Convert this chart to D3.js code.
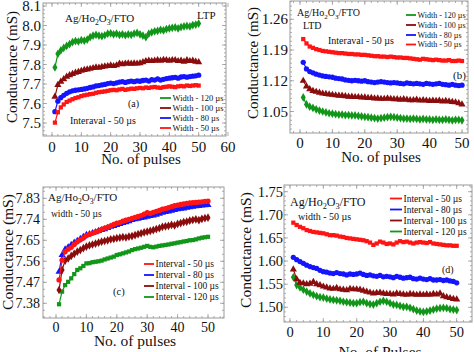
<!DOCTYPE html>
<html>
<head>
<meta charset="utf-8">
<script src="https://cdn.jsdelivr.net/npm/d3@7"></script>
<style>
  body { margin: 0; background: #fff; }
  svg { display: block; font-family: "Liberation Serif", "Times New Roman", serif; }
</style>
</head>
<body>
<svg id="chart" width="474" height="352"></svg>
<script>
// Pulse numbers shared by every series
const PULSES = d3.range(1, 51);

// (a) LTP, interval 50 µs, varying pulse width
const A_W120 = [7.785, 7.855, 7.872, 7.885, 7.895, 7.905, 7.915, 7.920, 7.918, 7.925,
  7.922, 7.928, 7.940, 7.948, 7.952, 7.948, 7.945, 7.950, 7.958, 7.960,
  7.955, 7.958, 7.952, 7.955, 7.950, 7.955, 7.952, 7.958, 7.962, 7.955,
  7.948, 7.940, 7.958, 7.965, 7.970, 7.972, 7.978, 7.975, 7.982, 7.985,
  7.988, 7.990, 7.985, 7.992, 7.995, 7.998, 7.995, 8.002, 8.005, 8.010];
const A_W100 = [7.635, 7.695, 7.712, 7.725, 7.738, 7.745, 7.752, 7.758, 7.762, 7.768,
  7.772, 7.775, 7.778, 7.782, 7.785, 7.784, 7.788, 7.790, 7.792, 7.795,
  7.792, 7.796, 7.805, 7.802, 7.805, 7.806, 7.804, 7.806, 7.805, 7.807,
  7.812, 7.818, 7.820, 7.818, 7.820, 7.822, 7.820, 7.824, 7.822, 7.820,
  7.823, 7.822, 7.818, 7.820, 7.815, 7.822, 7.818, 7.820, 7.815, 7.812];
const A_W80 = [7.558, 7.612, 7.630, 7.642, 7.652, 7.660, 7.665, 7.668, 7.670, 7.672,
  7.675, 7.678, 7.682, 7.685, 7.690, 7.692, 7.695, 7.698, 7.702, 7.705,
  7.702, 7.706, 7.710, 7.712, 7.708, 7.712, 7.715, 7.712, 7.716, 7.714,
  7.718, 7.720, 7.715, 7.722, 7.720, 7.726, 7.720, 7.724, 7.728, 7.730,
  7.732, 7.734, 7.730, 7.736, 7.738, 7.735, 7.738, 7.740, 7.742, 7.745];
const A_W50 = [7.502, 7.555, 7.580, 7.595, 7.608, 7.615, 7.622, 7.628, 7.632, 7.638,
  7.642, 7.645, 7.648, 7.650, 7.655, 7.658, 7.660, 7.662, 7.665, 7.668,
  7.670, 7.668, 7.672, 7.675, 7.670, 7.673, 7.676, 7.675, 7.678, 7.680,
  7.678, 7.682, 7.680, 7.683, 7.685, 7.682, 7.680, 7.684, 7.686, 7.688,
  7.686, 7.684, 7.688, 7.690, 7.688, 7.692, 7.690, 7.692, 7.694, 7.692];

// (b) LTD, interval 50 µs, varying pulse width
const B_W50 = [1.215, 1.205, 1.198, 1.195, 1.192, 1.190, 1.188, 1.187, 1.186, 1.185,
  1.184, 1.183, 1.183, 1.182, 1.181, 1.181, 1.180, 1.180, 1.179, 1.179,
  1.178, 1.177, 1.176, 1.176, 1.175, 1.175, 1.174, 1.175, 1.174, 1.173,
  1.173, 1.172, 1.172, 1.171, 1.170, 1.169, 1.168, 1.170, 1.169, 1.168,
  1.167, 1.168, 1.167, 1.166, 1.166, 1.167, 1.165, 1.165, 1.166, 1.165];
const B_W80 = [1.162, 1.147, 1.141, 1.138, 1.135, 1.133, 1.131, 1.130, 1.129, 1.128,
  1.126, 1.125, 1.124, 1.122, 1.121, 1.120, 1.121, 1.120, 1.119, 1.120,
  1.118, 1.117, 1.116, 1.117, 1.118, 1.117, 1.116, 1.115, 1.116, 1.115,
  1.114, 1.113, 1.115, 1.114, 1.113, 1.114, 1.113, 1.112, 1.114, 1.113,
  1.112, 1.113, 1.114, 1.112, 1.111, 1.110, 1.112, 1.110, 1.109, 1.110];
const B_W100 = [1.120, 1.107, 1.101, 1.097, 1.095, 1.093, 1.091, 1.090, 1.089, 1.088,
  1.087, 1.086, 1.086, 1.085, 1.084, 1.084, 1.083, 1.083, 1.082, 1.082,
  1.081, 1.081, 1.080, 1.080, 1.079, 1.079, 1.080, 1.079, 1.078, 1.078,
  1.077, 1.078, 1.077, 1.076, 1.076, 1.077, 1.075, 1.076, 1.075, 1.074,
  1.075, 1.074, 1.075, 1.073, 1.074, 1.073, 1.072, 1.071, 1.069, 1.066];
const B_W120 = [1.082, 1.066, 1.061, 1.058, 1.055, 1.052, 1.050, 1.048, 1.046, 1.045,
  1.044, 1.043, 1.043, 1.042, 1.042, 1.041, 1.041, 1.040, 1.039, 1.038,
  1.037, 1.036, 1.035, 1.034, 1.035, 1.036, 1.037, 1.038, 1.037, 1.036,
  1.035, 1.034, 1.034, 1.033, 1.034, 1.033, 1.032, 1.033, 1.032, 1.032,
  1.031, 1.032, 1.031, 1.031, 1.032, 1.031, 1.030, 1.031, 1.031, 1.030];

// (c) potentiation, width 50 µs, varying interval
const C_I50 = [7.480, 7.565, 7.601, 7.612, 7.620, 7.632, 7.644, 7.652, 7.660, 7.670,
  7.675, 7.680, 7.686, 7.690, 7.697, 7.702, 7.706, 7.712, 7.718, 7.723,
  7.726, 7.732, 7.736, 7.740, 7.744, 7.748, 7.752, 7.756, 7.762, 7.768,
  7.765, 7.770, 7.774, 7.778, 7.783, 7.786, 7.790, 7.794, 7.798, 7.801,
  7.804, 7.806, 7.808, 7.810, 7.811, 7.812, 7.814, 7.815, 7.817, 7.818];
const C_I80 = [7.515, 7.587, 7.611, 7.620, 7.630, 7.640, 7.648, 7.656, 7.665, 7.673,
  7.677, 7.681, 7.685, 7.690, 7.694, 7.698, 7.703, 7.708, 7.712, 7.716,
  7.720, 7.724, 7.728, 7.732, 7.737, 7.740, 7.743, 7.746, 7.748, 7.751,
  7.754, 7.757, 7.760, 7.764, 7.768, 7.771, 7.774, 7.777, 7.780, 7.783,
  7.785, 7.787, 7.790, 7.792, 7.794, 7.796, 7.797, 7.799, 7.800, 7.801];
const C_I100 = [7.437, 7.523, 7.563, 7.572, 7.583, 7.592, 7.601, 7.608, 7.616, 7.623,
  7.628, 7.632, 7.636, 7.640, 7.644, 7.647, 7.650, 7.654, 7.656, 7.659,
  7.661, 7.664, 7.662, 7.666, 7.668, 7.672, 7.676, 7.680, 7.684, 7.687,
  7.690, 7.694, 7.698, 7.702, 7.708, 7.710, 7.712, 7.716, 7.714, 7.720,
  7.724, 7.728, 7.730, 7.734, 7.737, 7.740, 7.736, 7.742, 7.745, 7.747];
const C_I120 = [7.376, 7.430, 7.458, 7.472, 7.487, 7.505, 7.523, 7.530, 7.540, 7.551,
  7.552, 7.556, 7.558, 7.560, 7.563, 7.568, 7.572, 7.576, 7.580, 7.587,
  7.590, 7.594, 7.598, 7.602, 7.608, 7.612, 7.615, 7.618, 7.622, 7.626,
  7.622, 7.620, 7.623, 7.626, 7.628, 7.630, 7.632, 7.635, 7.637, 7.640,
  7.642, 7.645, 7.647, 7.650, 7.651, 7.654, 7.658, 7.661, 7.663, 7.665];

// (d) depression, width 50 µs, varying interval
const D_I50 = [1.683, 1.678, 1.674, 1.671, 1.667, 1.665, 1.663, 1.662, 1.661, 1.660,
  1.658, 1.656, 1.656, 1.655, 1.653, 1.652, 1.650, 1.649, 1.648, 1.647,
  1.646, 1.645, 1.643, 1.640, 1.635, 1.638, 1.642, 1.640, 1.637, 1.638,
  1.636, 1.640, 1.643, 1.641, 1.642, 1.640, 1.638, 1.640, 1.641, 1.640,
  1.639, 1.641, 1.638, 1.637, 1.636, 1.635, 1.634, 1.634, 1.633, 1.633];
const D_I80 = [1.608, 1.603, 1.599, 1.595, 1.591, 1.588, 1.586, 1.584, 1.580, 1.577,
  1.576, 1.574, 1.573, 1.575, 1.573, 1.572, 1.570, 1.572, 1.571, 1.572,
  1.574, 1.571, 1.569, 1.570, 1.568, 1.567, 1.569, 1.566, 1.567, 1.566,
  1.564, 1.567, 1.565, 1.563, 1.564, 1.565, 1.562, 1.561, 1.563, 1.561,
  1.560, 1.562, 1.559, 1.559, 1.560, 1.558, 1.559, 1.557, 1.556, 1.553];
const D_I100 = [1.582, 1.561, 1.553, 1.552, 1.550, 1.551, 1.555, 1.550, 1.548, 1.545,
  1.543, 1.541, 1.540, 1.542, 1.539, 1.538, 1.537, 1.540, 1.539, 1.539,
  1.538, 1.536, 1.534, 1.532, 1.530, 1.531, 1.532, 1.530, 1.529, 1.529,
  1.528, 1.530, 1.529, 1.528, 1.527, 1.529, 1.528, 1.527, 1.528, 1.527,
  1.528, 1.527, 1.529, 1.528, 1.530, 1.524, 1.522, 1.520, 1.518, 1.517];
const D_I120 = [1.565, 1.548, 1.543, 1.538, 1.534, 1.530, 1.527, 1.524, 1.522, 1.521,
  1.519, 1.517, 1.516, 1.515, 1.514, 1.512, 1.511, 1.510, 1.509, 1.509,
  1.511, 1.512, 1.509, 1.507, 1.506, 1.509, 1.512, 1.514, 1.512, 1.509,
  1.506, 1.505, 1.503, 1.501, 1.501, 1.499, 1.496, 1.493, 1.491, 1.490,
  1.491, 1.493, 1.495, 1.497, 1.498, 1.499, 1.498, 1.496, 1.495, 1.494];

// Tick values
const X_TICKS_A = [0, 10, 20, 30, 40, 50, 60];
const X_TICKS = [0, 10, 20, 30, 40, 50];
const Y_TICKS_A = [7.5, 7.6, 7.7, 7.8, 7.9, 8.0, 8.1];
const Y_TICKS_B = [1.05, 1.12, 1.19, 1.26];
const Y_TICKS_C = [7.38, 7.47, 7.56, 7.65, 7.74, 7.83];
const Y_TICKS_D = [1.50, 1.55, 1.60, 1.65, 1.70, 1.75];

const WIDTH_LABELS = ['Width - 120 µs', 'Width - 100 µs', 'Width - 80 µs', 'Width - 50 µs'];
const INTERVAL_LABELS = ['Interval - 50 µs', 'Interval - 80 µs', 'Interval - 100 µs', 'Interval - 120 µs'];

const COLORS = { red: '#ff1414', blue: '#1414ff', wine: '#8a0c0c', green: '#12961a' };
const FRAME = '#9a9a9a';

const svg = d3.select('#chart');

/**
 * Write "Ag/Ho2O3/FTO" with subscripts
 */
function deviceLabel(g, x, y, size) {
    const t = g.append('text').attr('x', x).attr('y', y).attr('font-size', size).attr('fill', '#111');
    const parts = [['Ag/Ho', 0], ['2', 1], ['O', -1], ['3', 1], ['/FTO', -1]];
    parts.forEach(([s, shift]) => {
        const sp = t.append('tspan').text(s);
        if (shift === 1) sp.attr('dy', size * 0.25).attr('font-size', size * 0.7);
        if (shift === -1) sp.attr('dy', -size * 0.25);
    });
}

/**
 * Draw one panel: frame, ticks, series, legend and notes
 */
function drawPanel(p) {
    const g = svg.append('g');
    const f = p.frame;
    const x = d3.scaleLinear().domain(p.xDomain).range(p.xRange);
    const y = d3.scaleLinear().domain(p.yDomain).range(p.yRange);

    // Frame
    g.append('rect')
        .attr('x', f.x0).attr('y', f.y0)
        .attr('width', f.x1 - f.x0).attr('height', f.y1 - f.y0)
        .attr('fill', 'none').attr('stroke', FRAME).attr('stroke-width', 1);

    // Minor and major ticks on all four sides
    const ticks = g.append('g').attr('stroke', FRAME).attr('stroke-width', 0.8);
    const xLo = x.invert(f.x0), xHi = x.invert(f.x1);
    const yLo = y.invert(f.y1), yHi = y.invert(f.y0);
    const xMinor = d3.range(Math.ceil(xLo / p.xMinor) * p.xMinor, xHi, p.xMinor);
    const yMinor = d3.range(Math.ceil(yLo / p.yMinor - 1e-6) * p.yMinor, yHi, p.yMinor);

    const vTick = (v, len) => {
        ticks.append('line').attr('x1', x(v)).attr('x2', x(v)).attr('y1', f.y1).attr('y2', f.y1 - len);
        ticks.append('line').attr('x1', x(v)).attr('x2', x(v)).attr('y1', f.y0).attr('y2', f.y0 + len);
    };
    const hTick = (v, len) => {
        ticks.append('line').attr('y1', y(v)).attr('y2', y(v)).attr('x1', f.x0).attr('x2', f.x0 + len);
        ticks.append('line').attr('y1', y(v)).attr('y2', y(v)).attr('x1', f.x1).attr('x2', f.x1 - len);
    };
    xMinor.forEach(v => vTick(v, 2));
    yMinor.forEach(v => hTick(v, 2));
    p.xTicks.forEach(v => vTick(v, 4));
    p.yTicks.forEach(v => hTick(v, 4));

    // Tick labels
    g.append('g').selectAll('text').data(p.xTicks).join('text')
        .attr('x', d => x(d)).attr('y', p.xLabelY)
        .attr('text-anchor', 'middle').attr('dominant-baseline', 'central')
        .attr('font-size', p.tickSize).attr('fill', '#111')
        .text(d3.format('d'));
    g.append('g').selectAll('text').data(p.yTicks).join('text')
        .attr('x', p.yLabelX).attr('y', d => y(d))
        .attr('text-anchor', 'end').attr('dominant-baseline', 'central')
        .attr('font-size', p.tickSize).attr('fill', '#111')
        .text(d3.format(p.yFormat));

    // Axis titles
    g.append('text')
        .attr('x', p.xTitle.x).attr('y', p.xTitle.y)
        .attr('text-anchor', 'middle').attr('font-size', p.titleSize).attr('fill', '#111')
        .text(p.xTitle.text);
    g.append('text')
        .attr('transform', `translate(${p.yTitle.x},${p.yTitle.y}) rotate(-90)`)
        .attr('text-anchor', 'middle').attr('dominant-baseline', 'central')
        .attr('font-size', p.titleSize).attr('fill', '#111')
        .text('Conductance (mS)');

    // Series: thin connecting line plus markers
    const line = d3.line().x((d, i) => x(PULSES[i])).y(d => y(d));
    p.series.forEach(s => {
        g.append('path')
            .attr('d', line(s.values))
            .attr('fill', 'none').attr('stroke', s.color).attr('stroke-width', 1.2);
        const sym = d3.symbol().type(s.symbol).size(s.size || 22);
        g.append('g').selectAll('path').data(s.values).join('path')
            .attr('transform', (d, i) => `translate(${x(PULSES[i])},${y(d)})`)
            .attr('d', sym)
            .attr('fill', s.color);
    });

    // Legend
    const L = p.legend;
    L.items.forEach((it, i) => {
        g.append('line')
            .attr('x1', L.x).attr('x2', L.x + L.len)
            .attr('y1', L.ys[i]).attr('y2', L.ys[i])
            .attr('stroke', it.color).attr('stroke-width', 1.8);
        g.append('text')
            .attr('x', L.x + L.len + 1.5).attr('y', L.ys[i])
            .attr('dominant-baseline', 'central')
            .attr('font-size', L.size).attr('fill', '#111')
            .text(it.label);
    });

    // Notes
    deviceLabel(g, p.device.x, p.device.y, p.device.size);
    p.notes.forEach(n => {
        g.append('text')
            .attr('x', n.x).attr('y', n.y)
            .attr('font-size', n.size).attr('fill', '#111')
            .text(n.text);
    });
}

drawPanel({
    frame: { x0: 43, x1: 226, y0: 3, y1: 136 },
    xDomain: [0, 60], xRange: [52, 228],
    yDomain: [7.5, 8.1], yRange: [123, 6],
    xTicks: X_TICKS_A, yTicks: Y_TICKS_A, xMinor: 2, yMinor: 0.02, yFormat: '.1f',
    tickSize: 15, xLabelY: 147, yLabelX: 41,
    titleSize: 15,
    xTitle: { text: 'No. of pulses', x: 141, y: 164 }, yTitle: { x: 12, y: 67 },
    series: [
        { values: A_W120, color: COLORS.green, symbol: d3.symbolDiamond },
        { values: A_W100, color: COLORS.wine, symbol: d3.symbolTriangle },
        { values: A_W80, color: COLORS.blue, symbol: d3.symbolCircle },
        { values: A_W50, color: COLORS.red, symbol: d3.symbolSquare, size: 18 }
    ],
    legend: {
        x: 160, len: 11, ys: [98, 108, 118, 128], size: 8.5,
        items: [COLORS.green, COLORS.wine, COLORS.blue, COLORS.red].map((c, i) => ({ color: c, label: WIDTH_LABELS[i] }))
    },
    device: { x: 65, y: 22, size: 11 },
    notes: [
        { text: 'LTP', x: 197, y: 19, size: 11 },
        { text: '(a)', x: 128, y: 107, size: 10 },
        { text: 'Interaval - 50 µs', x: 70, y: 124, size: 10 }
    ]
});

drawPanel({
    frame: { x0: 290, x1: 468, y0: 1, y1: 133 },
    xDomain: [0, 50], xRange: [300, 462],
    yDomain: [1.05, 1.26], yRange: [111.5, 19.3],
    xTicks: X_TICKS, yTicks: Y_TICKS_B, xMinor: 2, yMinor: 0.01, yFormat: '.2f',
    tickSize: 15, xLabelY: 143, yLabelX: 288,
    titleSize: 15,
    xTitle: { text: 'No. of pulses', x: 381, y: 162 }, yTitle: { x: 253, y: 63 },
    series: [
        { values: B_W120, color: COLORS.green, symbol: d3.symbolDiamond },
        { values: B_W100, color: COLORS.wine, symbol: d3.symbolTriangle },
        { values: B_W80, color: COLORS.blue, symbol: d3.symbolCircle },
        { values: B_W50, color: COLORS.red, symbol: d3.symbolSquare, size: 18 }
    ],
    legend: {
        x: 406, len: 10, ys: [15, 25, 35, 44.5], size: 8,
        items: [COLORS.green, COLORS.wine, COLORS.blue, COLORS.red].map((c, i) => ({ color: c, label: WIDTH_LABELS[i] }))
    },
    device: { x: 297, y: 16, size: 10 },
    notes: [
        { text: 'LTD', x: 303, y: 29, size: 10 },
        { text: '(b)', x: 453, y: 79, size: 11 },
        { text: 'Interaval - 50 µs', x: 328, y: 44, size: 10 }
    ]
});

drawPanel({
    frame: { x0: 43, x1: 224, y0: 187, y1: 318 },
    xDomain: [0, 50], xRange: [56, 208],
    yDomain: [7.38, 7.83], yRange: [303.3, 198.3],
    xTicks: X_TICKS, yTicks: Y_TICKS_C, xMinor: 2, yMinor: 0.03, yFormat: '.2f',
    tickSize: 14, xLabelY: 327, yLabelX: 40,
    titleSize: 15.5,
    xTitle: { text: 'No. of pulses', x: 135, y: 346 }, yTitle: { x: 7, y: 252 },
    series: [
        { values: C_I120, color: COLORS.green, symbol: d3.symbolSquare, size: 18 },
        { values: C_I100, color: COLORS.wine, symbol: d3.symbolDiamond },
        { values: C_I80, color: COLORS.blue, symbol: d3.symbolTriangle },
        { values: C_I50, color: COLORS.red, symbol: d3.symbolCircle }
    ],
    legend: {
        x: 144, len: 10, ys: [264, 275, 286, 297], size: 9.5,
        items: [COLORS.red, COLORS.blue, COLORS.wine, COLORS.green].map((c, i) => ({ color: c, label: INTERVAL_LABELS[i] }))
    },
    device: { x: 48, y: 201, size: 11 },
    notes: [
        { text: 'width - 50 µs', x: 51, y: 216.5, size: 9.5 },
        { text: '(c)', x: 113, y: 294.5, size: 10.5 }
    ]
});

drawPanel({
    frame: { x0: 284, x1: 472, y0: 185, y1: 322 },
    xDomain: [0, 50], xRange: [290, 456.7],
    yDomain: [1.50, 1.75], yRange: [307.3, 191.7],
    xTicks: X_TICKS, yTicks: Y_TICKS_D, xMinor: 2, yMinor: 0.01, yFormat: '.2f',
    tickSize: 14.5, xLabelY: 332, yLabelX: 283,
    titleSize: 15.5,
    xTitle: { text: 'No. of Pulses', x: 380, y: 357 }, yTitle: { x: 245, y: 250 },
    series: [
        { values: D_I120, color: COLORS.green, symbol: d3.symbolDiamond },
        { values: D_I100, color: COLORS.wine, symbol: d3.symbolTriangle },
        { values: D_I80, color: COLORS.blue, symbol: d3.symbolCircle },
        { values: D_I50, color: COLORS.red, symbol: d3.symbolSquare, size: 18 }
    ],
    legend: {
        x: 390, len: 12, ys: [198.5, 209.5, 220.5, 231.5], size: 9.5,
        items: [COLORS.red, COLORS.blue, COLORS.wine, COLORS.green].map((c, i) => ({ color: c, label: INTERVAL_LABELS[i] }))
    },
    device: { x: 290, y: 205.5, size: 12 },
    notes: [
        { text: 'width - 50 µs', x: 298, y: 219.5, size: 10 },
        { text: '(d)', x: 442, y: 272.5, size: 10 }
    ]
});
</script>
</body>
</html>
